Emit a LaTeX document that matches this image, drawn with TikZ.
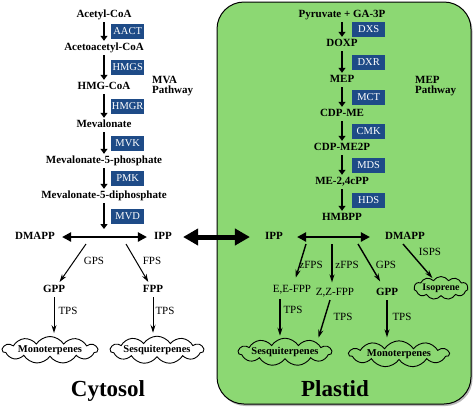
\documentclass[tikz,border=0pt]{standalone}
\usepackage{fontspec}
\setmainfont{Liberation Serif}
\usepackage{xcolor}
\usetikzlibrary{positioning, arrows.meta, shapes.symbols, shadows}

\definecolor{plastidgreen}{RGB}{140,216,115}
\definecolor{enzblue}{RGB}{30,75,135}

\begin{document}
\begin{tikzpicture}[x=1pt,y=-1pt,on grid,auto,
       met/.style={font=\fontsize{11}{12}\selectfont\bfseries, inner sep=2pt, text height=7.5pt, text depth=2.5pt},
       plain/.style={font=\fontsize{11}{12}\selectfont, inner sep=1pt},
       pathlbl/.style={font=\fontsize{11}{10}\selectfont\bfseries, align=left, anchor=west, inner sep=0pt},
       enz/.style={fill=enzblue, text=white, font=\fontsize{10.5}{11}\selectfont, minimum width=33pt, minimum height=15pt, inner sep=0pt, xshift=6pt},
       steparrow/.style={line width=2.4pt, -{Triangle[length=5pt,width=7pt]}},
       conv/.style={line width=1pt, -{Stealth[length=8pt,width=5pt]}},
       dblarrow/.style={line width=2.6pt, {Triangle[length=9pt,width=9pt]}-{Triangle[length=9pt,width=9pt]}},
       puff/.style={cloud, cloud puffs=11, cloud puff arc=115, cloud ignores aspect, draw, line width=0.9pt, inner sep=0pt, font=\fontsize{10.5}{12}\selectfont\bfseries},
       big/.style={font=\fontsize{23}{26}\selectfont\bfseries}]
       \useasboundingbox (0,0) rectangle (474,408);

       \filldraw[fill=plastidgreen, line width=1pt, rounded corners=27pt,
         drop shadow={shadow xshift=1.5pt, shadow yshift=-2pt, fill=gray!70, opacity=.8}]
         (217,2) rectangle (471,404);

       \node[met] (AcCoA) at (104,15) {Acetyl-CoA};
       \node[met] (AcAcCoA) [below=33pt of AcCoA] {Acetoacetyl-CoA};
       \node[met] (HMGCoA) [below=39pt of AcAcCoA] {HMG-CoA};
       \node[met] (Mev) [below=38pt of HMGCoA] {Mevalonate};
       \node[met] (MevP) [below=36pt of Mev] {Mevalonate-5-phosphate};
       \node[met] (MevPP) [below=35pt of MevP] {Mevalonate-5-diphosphate};
       \coordinate (MVDend) at (104,229);
       \node[pathlbl] (MVApath) at (152,86) {MVA\\Pathway};

       \node[met] (DMAPPc) at (35,237) {DMAPP};
       \node[met] (IPPc) at (163,237) {IPP};
       \coordinate (GPSc) at (86,244);
       \coordinate (FPSc) at (126,244);
       \node[met] (GPPc) at (54,290) {GPP};
       \node[met] (FPPc) at (153,290) {FPP};
       \node[puff, fill=white, minimum width=95pt, minimum height=27pt] (MonoC) at (50,350) {Monoterpenes};
       \node[puff, fill=white, minimum width=93pt, minimum height=27pt] (SesqC) at (157,350) {Sesquiterpenes};
       \node[plain] (GPSlc) at (94,261) {GPS};
       \node[plain] (FPSlc) at (152,261) {FPS};
       \node[plain] (TPSlc1) at (68,311) {TPS};
       \node[plain] (TPSlc2) at (165,311) {TPS};
       \node[big] (Cyto) at (108,391) {Cytosol};

       \node[met] (Pyr) at (342,15) {Pyruvate + GA-3P};
       \node[met] (DOXP) [below=29pt of Pyr] {DOXP};
       \node[met] (MEP) [below=36pt of DOXP] {MEP};
       \node[met] (CDPME) [below=34pt of MEP] {CDP-ME};
       \node[met] (CDPMEP) [below=34pt of CDPME] {CDP-ME2P};
       \node[met] (MEcPP) [below=34pt of CDPMEP] {ME-2,4cPP};
       \node[met] (HMBPP) [below=36pt of MEcPP] {HMBPP};
       \node[pathlbl] (MEPpath) at (415,86) {MEP\\Pathway};

       \node[met] (IPPp) at (274,237) {IPP};
       \node[met] (DMAPPp) at (405,237) {DMAPP};
       \coordinate (zFa) at (306,244);
       \coordinate (zFb) at (332,244);
       \coordinate (GPSp) at (358,244);
       \coordinate (ISPSp) at (403,244);
       \node[plain] (EEFPP) at (292,290) {E,E-FPP};
       \node[plain] (ZZFPP) at (335,293) {Z,Z-FPP};
       \node[met] (GPPp) at (387,293) {GPP};
       \node[puff, minimum width=54pt, minimum height=23pt, font=\fontsize{10}{12}\selectfont\bfseries] (Iso) at (441,288) {Isoprene};
       \coordinate (tpsA) at (280,299);
       \coordinate (tpsB) at (330,300);
       \node[puff, minimum width=92pt, minimum height=25pt] (SesqP) at (285,352) {Sesquiterpenes};
       \node[puff, minimum width=100pt, minimum height=25pt] (MonoP) at (399,354) {Monoterpenes};
       \node[plain] (zFPSl1) at (311,265) {zFPS};
       \node[plain] (zFPSl2) at (347,265) {zFPS};
       \node[plain] (GPSlp) at (386,265) {GPS};
       \node[plain] (ISPSl) at (430,252) {ISPS};
       \node[plain] (TPSlp1) at (293,310) {TPS};
       \node[plain] (TPSlp2) at (343,317) {TPS};
       \node[plain] (TPSlp3) at (402,317) {TPS};
       \node[big] (Plas) at (335,389) {Plastid};

       \path[steparrow]
       (AcCoA) edge node[enz] (AACT) {AACT} (AcAcCoA)
       (AcAcCoA) edge node[enz] (HMGS) {HMGS} (HMGCoA)
       (HMGCoA) edge node[enz] (HMGR) {HMGR} (Mev)
       (Mev) edge node[enz] (MVK) {MVK} (MevP)
       (MevP) edge node[enz] (PMK) {PMK} (MevPP)
       (MevPP) edge node[enz] (MVD) {MVD} (MVDend)
       (Pyr) edge node[enz, xshift=3pt] (DXS) {DXS} (DOXP)
       (DOXP) edge node[enz, xshift=3pt] (DXR) {DXR} (MEP)
       (MEP) edge node[enz, xshift=3pt] (MCT) {MCT} (CDPME)
       (CDPME) edge node[enz, xshift=3pt] (CMK) {CMK} (CDPMEP)
       (CDPMEP) edge node[enz, xshift=3pt] (MDS) {MDS} (MEcPP)
       (MEcPP) edge node[enz, xshift=3pt] (HDS) {HDS} (HMBPP);

       \path[dblarrow]
       (DMAPPc) edge [shorten <=5pt, shorten >=5pt] (IPPc)
       (IPPp) edge [shorten <=12pt, shorten >=13pt] (DMAPPp);
       \draw[line width=5pt, {Triangle[length=15pt,width=16pt]}-{Triangle[length=15pt,width=16pt]},
         shorten <=9pt, shorten >=13pt] (IPPc) -- (IPPp);

       \path[conv]
       (GPSc) edge [shorten >=1pt] (GPPc)
       (FPSc) edge [shorten >=1pt] (FPPc)
       (GPPc) edge [shorten >=3pt] (GPPc |- MonoC.north)
       (FPPc) edge [shorten >=3pt] (FPPc |- SesqC.north);

       \path[conv, line width=1.4pt]
       (zFa) edge [shorten >=7pt] (EEFPP)
       (zFb) edge [shorten >=5pt] (zFb |- ZZFPP.north)
       (GPSp) edge [shorten >=5pt] (GPPp)
       (ISPSp) edge [shorten >=2pt] (Iso)
       (tpsA) edge [shorten >=2pt] (tpsA |- SesqP.north)
       (tpsB) edge [shorten >=5pt] (SesqP.north east)
       (GPPp) edge [shorten >=3pt] (GPPp |- MonoP.north);
    \end{tikzpicture}
\end{document}
